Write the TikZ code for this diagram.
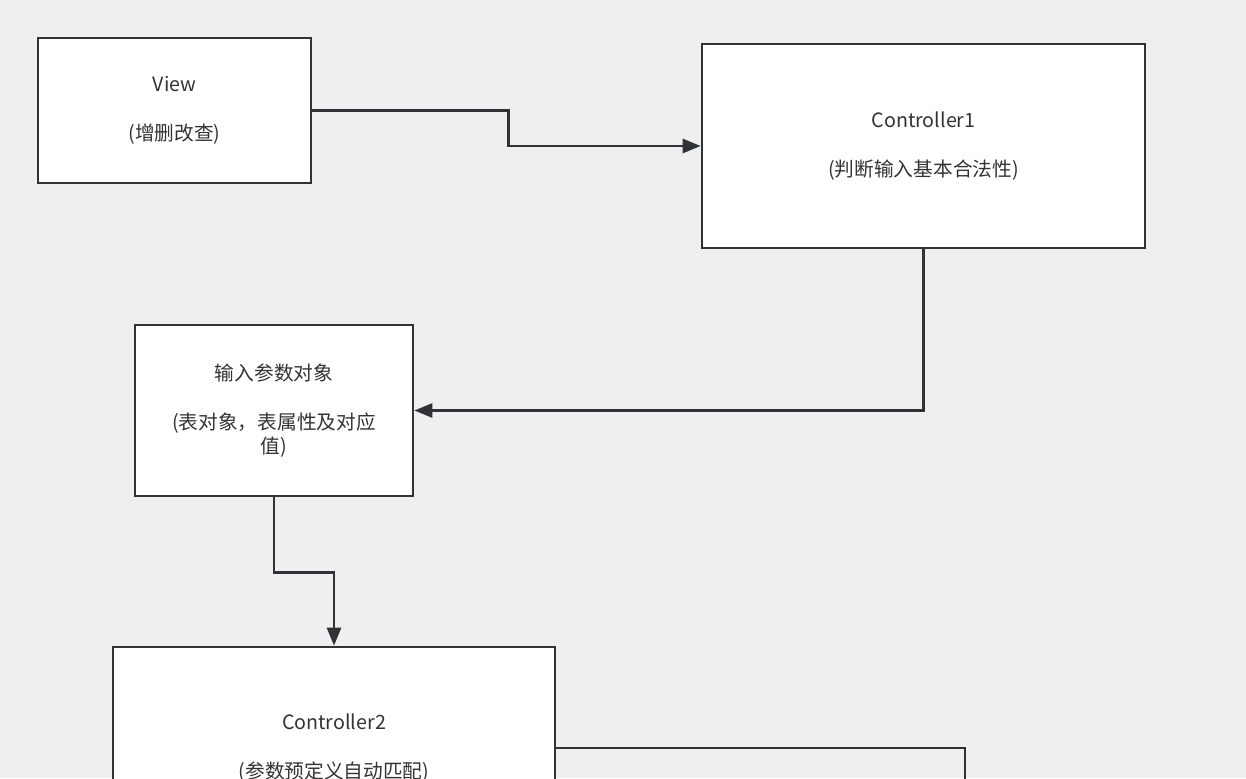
\documentclass[tikz,border=0pt]{standalone}
\usepackage{fontspec}
\newfontfamily\cjk{Noto Sans CJK SC}
\usetikzlibrary{arrows.meta}
\definecolor{edgegray}{RGB}{47,51,55}
\definecolor{bggray}{RGB}{239,239,239}
\definecolor{txtgray}{RGB}{51,51,51}
\tikzstyle{box}=[rectangle,draw=edgegray,fill=white,line width=1.5pt,
                text=txtgray,align=center,
                font=\cjk\fontsize{11.2}{14}\selectfont]
\tikzstyle{line}=[draw=edgegray,line width=1.5pt,
                -{Triangle[length=0.36cm,width=0.28cm]}]
\tikzstyle{plain line}=[draw=edgegray,line width=1.5pt]

\begin{document}
\begin{tikzpicture}[x=0.02cm,y=-0.02cm]
\fill [bggray] (0,0) rectangle (1246,778);
\useasboundingbox (0,0) rectangle (1246,778);
\clip (0,0) rectangle (1246,778);
\node [box,minimum width=5.46cm,minimum height=2.9cm] (view) at (174.5,110.5)
  {View\\[\baselineskip](增删改查)};
\node [box,minimum width=8.86cm,minimum height=4.08cm] (ctrlA) at (923.5,146)
  {Controller1\\[\baselineskip](判断输入基本合法性)};
\node [box,minimum width=5.56cm,minimum height=3.42cm] (param) at (274,410.5)
  {输入参数对象\\[\baselineskip](表对象，表属性及对应\\值)};
\node [box,minimum width=8.84cm,minimum height=4.04cm] (ctrlB) at (334,748)
  {Controller2\\[\baselineskip](参数预定义自动匹配)};
\coordinate (down) at (965,849);
\path [line] (view.east) -- ++(196,0) |- (ctrlA.west);
\path [line] (ctrlA.south) |- (param.east);
\path [line] (param.south) -- ++(0,75) -| (ctrlB.north);
\path [plain line] (ctrlB.east) -| (down);
\end{tikzpicture}
\end{document}
